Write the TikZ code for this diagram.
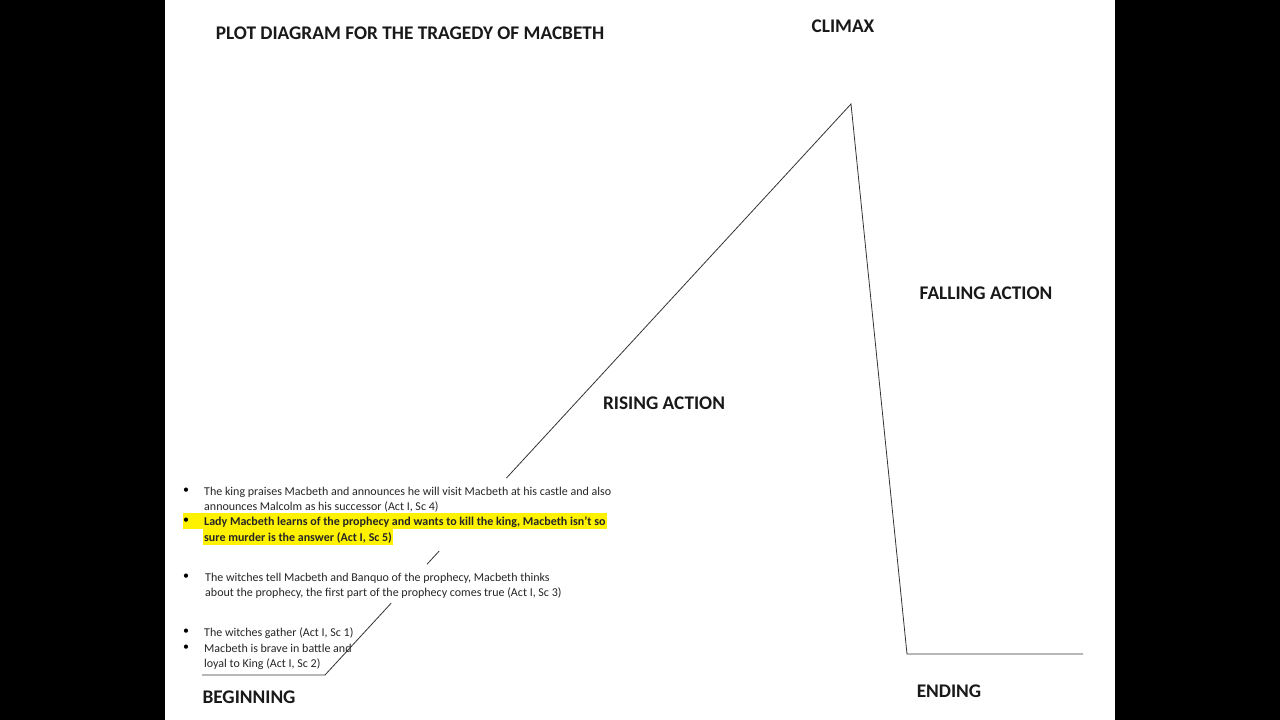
\documentclass[tikz,border=0pt]{standalone}
\usepackage{fontspec}
\setmainfont{Carlito}
\usetikzlibrary{calc}
\tikzset{
  head/.style={font=\fontsize{19.3}{21}\selectfont\bfseries, text=black!90, inner sep=0pt, anchor=center},
  txt/.style={font=\fontsize{12}{15}\selectfont, text=black!85, inner sep=0pt, anchor=base west},
  htxt/.style={txt, font=\fontsize{12}{15}\selectfont\bfseries},
  bul/.style={font=\fontsize{12}{15}\selectfont, inner sep=0pt, anchor=center},
  plot/.style={draw=black!80, line width=0.8pt}
}
\begin{document}
\begin{tikzpicture}[x=1pt,y=-1pt]
\useasboundingbox (0,0) rectangle (1280,720);
\fill[black] (0,0) rectangle (1280,720);
\fill[white] (165,0) rectangle (1115,720);

% plot line
\coordinate (b0) at (202,675);
\coordinate (A) at (325,675);
\coordinate (B) at (851,104);
\coordinate (C) at (907,654);
\coordinate (D) at (1083,654);
\draw[plot] (b0) -- (A) -- ($(A)!0.126!(B)$);
\draw[plot] ($(A)!0.194!(B)$) -- ($(A)!0.217!(B)$);
\draw[plot] ($(A)!0.345!(B)$) -- (B) -- (C) -- (D);

% highlight
\fill[yellow] (183,513) rectangle (607,529);
\fill[yellow] (203,529) rectangle (393,544.5);

% headings
\node[head] (title) at (410,33) {PLOT DIAGRAM FOR THE TRAGEDY OF MACBETH};
\node[head] (climax) at (843,26) {CLIMAX};
\node[head] (falling) at (986,293) {FALLING ACTION};
\node[head] (rising) at (664,403) {RISING ACTION};
\node[head] (beginning) at (249,697) {BEGINNING};
\node[head] (ending) at (949,691) {ENDING};

% bullets
\node[bul] (d1) at (186,491) {\textbullet};
\node[bul] (d2) at (186,521) {\textbullet};
\node[bul] (d3) at (186,577) {\textbullet};
\node[bul] (d4) at (186,632) {\textbullet};
\node[bul] (d5) at (186,648) {\textbullet};

\node[txt] (l1) at (204,495) {The king praises Macbeth and announces he will visit Macbeth at his castle and also};
\node[txt] (l2) at (204,510) {announces Malcolm as his successor (Act I, Sc 4)};
\node[htxt] (l3) at (204,525) {Lady Macbeth learns of the prophecy and wants to kill the king, Macbeth isn’t so};
\node[htxt] (l4) at (204,541) {sure murder is the answer (Act I, Sc 5)};
\node[txt] (l5) at (205,581) {The witches tell Macbeth and Banquo of the prophecy, Macbeth thinks};
\node[txt] (l6) at (205,596) {about the prophecy, the first part of the prophecy comes true (Act I, Sc 3)};
\node[txt] (l7) at (204,636) {The witches gather (Act I, Sc 1)};
\node[txt] (l8) at (204,652) {Macbeth is brave in battle and};
\node[txt] (l9) at (204,667) {loyal to King (Act I, Sc 2)};
\end{tikzpicture}
\end{document}
